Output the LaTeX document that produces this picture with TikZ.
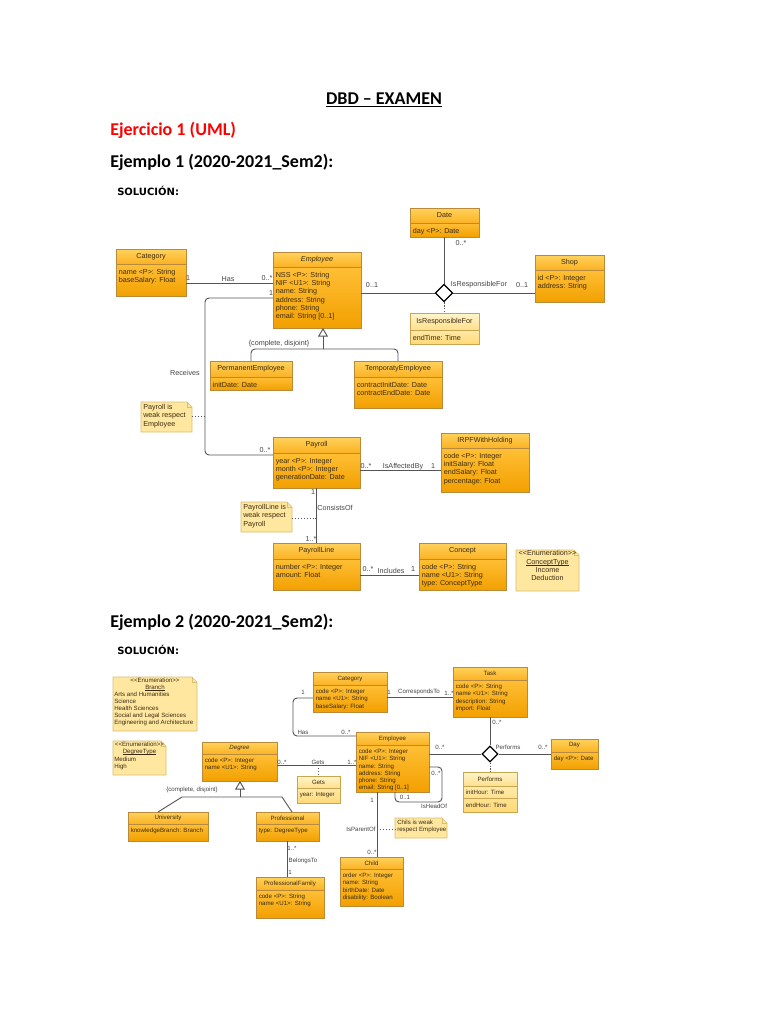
\documentclass[tikz,border=0pt]{standalone}
\usepackage{fontspec}
\setmainfont{Liberation Sans}
\newfontfamily\headfont{Carlito}
\newfontfamily\solfont{DejaVu Sans}
\usetikzlibrary{fit,shapes.geometric,arrows.meta}

\definecolor{hdtop}{HTML}{FFD25C}
\definecolor{hdbot}{HTML}{FBB224}
\definecolor{bdtop}{HTML}{FFBF36}
\definecolor{bdbot}{HTML}{F2A000}
\definecolor{bline}{HTML}{B98A3A}
\definecolor{phtop}{HTML}{FFF4CC}
\definecolor{phbot}{HTML}{FFE08C}
\definecolor{pbtop}{HTML}{FFEAA8}
\definecolor{pbbot}{HTML}{FFD977}
\definecolor{pline}{HTML}{C9A550}
\definecolor{ntfill}{HTML}{FFE7A0}
\definecolor{ntline}{HTML}{D9BE6E}
\definecolor{txt}{HTML}{3B2B12}
\definecolor{lnk}{HTML}{555555}
\definecolor{lblc}{HTML}{444444}

\newcommand\bfs{\fontsize{5.4}{6.2}\selectfont}
\newcommand\attroff{4.8}
\newcommand\enumlbl{<\kern0pt<Enumeration>\kern0pt>}
\newcommand\ulbox[1]{\begingroup\setbox0\hbox{#1}\rlap{\rule[-0.8pt]{\wd0}{0.35pt}}\box0\endgroup}

\tikzset{
  o body/.style={top color=bdtop, bottom color=bdbot},
  o head/.style={top color=hdtop, bottom color=hdbot},
  o edge/.style={draw=bline, line width=0.5pt},
  p body/.style={top color=pbtop, bottom color=pbbot},
  p head/.style={top color=phtop, bottom color=phbot},
  p edge/.style={draw=pline, line width=0.5pt},
  boxtitle/.style={font=\bfs, text=txt, inner sep=0pt},
  boxattr/.style={font=\bfs, text=txt, inner sep=0pt, anchor=north west, align=left},
  notefill/.style={fill=ntfill, draw=ntline, line width=0.5pt},
  notetext/.style={font=\bfs, text=txt, inner sep=0pt, align=left},
  conn/.style={draw=lnk, line width=0.7pt},
  dotc/.style={draw=lnk, line width=0.6pt, dash pattern=on 1pt off 1.2pt},
  lbl/.style={font=\bfs, text=lblc, inner sep=0pt},
  dia/.style={diamond, draw=black, fill=white, line width=0.9pt, inner sep=0pt, minimum width=13pt, minimum height=13pt},
  gentip/.style={-{Triangle[open, length=6.5pt, width=7.5pt]}},
  headline/.style={font=\headfont\bfseries\fontsize{13.5}{16}\selectfont, inner sep=0pt, anchor=base west},
  solline/.style={font=\solfont\bfseries\fontsize{7.5}{9}\selectfont, inner sep=0pt, anchor=base west},
}

\newcommand{\UmlBox}[9]{%
  \node[fit={(#3,#4)(#5,#6)}, inner sep=0pt, outer sep=0pt] (#2) {};
  \shade[#1 body] (#3,#7) rectangle (#5,#6);
  \shade[#1 head] (#3,#4) rectangle (#5,#7);
  \draw[#1 edge] (#3,#4) rectangle (#5,#6);
  \draw[#1 edge] (#3,#7) -- (#5,#7);
  \node[boxtitle] at ({(#3+#5)/2},{(#4+#7)/2}) {#8};
  \node[boxattr] at ({#3+2.5},{#7+\attroff}) {#9};
}
\newcommand{\UmlNote}[5]{%
  \node[fit={(#2,#3)(#4,#5)}, inner sep=0pt, outer sep=0pt] (#1) {};
  \filldraw[notefill] (#2,#3) -- ({#4-5},#3) -- (#4,{#3+5}) -- (#4,#5) -- (#2,#5) -- cycle;
  \draw[draw=ntline, line width=0.5pt] ({#4-5},#3) -- ({#4-5},{#3+5}) -- (#4,{#3+5});
}

\begin{document}
\begin{tikzpicture}[x=0.75pt,y=-0.75pt]
\useasboundingbox (0,0) rectangle (768,1024);
\fill[white] (0,0) rectangle (768,1024);

% ---------- headings ----------
\node[headline, anchor=base] (title) at (384,104) {\underline{DBD – EXAMEN}};
\node[headline, text={rgb,255:red,255;green,0;blue,0}] (ej) at (110,135) {Ejercicio 1 (UML)};
\node[headline] (ex1) at (110,167) {Ejemplo 1 (2020-2021\_Sem2):};
\node[solline] (sol1) at (117,195) {SOLUCIÓN:};
\node[headline] (ex2) at (110,627) {Ejemplo 2 (2020-2021\_Sem2):};
\node[solline] (sol2) at (117,654) {SOLUCIÓN:};

% ================= DIAGRAM 1 =================
\UmlBox{o}{date}{410}{208}{479}{237}{223}{Date}{day <P>: Date}
\UmlBox{o}{cat1}{116}{249}{186}{296}{264}{Category}{name <P>: String\\baseSalary: Float}
\UmlBox{o}{emp1}{273}{252}{361}{328}{267}{\itshape Employee}{NSS <P>: String\\NIF <U1>: String\\name: String\\address: String\\phone: String\\email: String [0..1]}
\UmlBox{o}{shop}{535}{255}{604}{302}{270}{Shop}{id <P>: Integer\\address: String}
\UmlBox{p}{irf}{410}{313}{479}{344}{330}{IsResponsibleFor}{endTime: Time}
\UmlBox{o}{perm}{210}{361}{292}{390}{377}{PermanentEmployee}{initDate: Date}
\UmlBox{o}{temp}{354}{361}{442}{408}{377}{TemporatyEmployee}{contractInitDate: Date\\contractEndDate: Date}
\UmlBox{o}{payroll}{273}{437}{360}{488}{453}{Payroll}{year <P>: Integer\\month <P>: Integer\\generationDate: Date}
\UmlBox{o}{irpf}{441}{433}{529}{492}{448}{IRPFWithHolding}{code <P>: Integer\\initSalary: Float\\endSalary: Float\\percentage: Float}
\UmlBox{o}{pline}{273}{543}{360}{590}{559}{PayrollLine}{number <P>: Integer\\amount: Float}
\UmlBox{o}{concept}{419}{543}{506}{590}{559}{Concept}{code <P>: String\\name <U1>: String\\type: ConceptType}

\UmlNote{n1}{141}{402}{192}{432}
\node[notetext, anchor=north west] at (143,404) {Payroll is\\weak respect\\Employee};
\UmlNote{n2}{241}{502}{292}{532}
\node[notetext, anchor=north west] at (243,504) {PayrollLine is\\weak respect\\Payroll};
\UmlNote{en1}{516}{550}{579}{591}
\node[notetext, align=center, anchor=north] at (547.5,550.5) {\enumlbl\\\ulbox{ConceptType}\\Income\\Deduction};

\node[dia] (d1) at (444,293) {};
\draw[conn] (cat1.east |- 0,283) -- (emp1.west |- 0,283);
\draw[conn] (emp1.east |- d1) -- (d1.west);
\draw[conn] (d1.east) -- (shop.west |- d1);
\draw[conn] (date.south -| d1) -- (d1.north);
\draw[dotc] (d1.south) -- (irf.north -| d1);
\draw[conn, rounded corners=3pt] (emp1.west |- 0,298) -- (205,298) -- (205,455) -- (payroll.west |- 0,455);
\draw[dotc] (n1.east |- 0,416) -- (205,416);
\draw[conn, rounded corners=3pt] (perm.north) -- (251,349) -- (temp.north |- 0,349) -- (temp.north);
\draw[conn, gentip] (323,349) -- (emp1.south -| 323,0);
\draw[conn] (payroll.east |- 0,470) -- (irpf.west |- 0,470);
\draw[conn] (payroll.south -| 316,0) -- (pline.north -| 316,0);
\draw[dotc] (n2.east |- 0,518) -- (316,518);
\draw[conn] (pline.east |- 0,575) -- (concept.west |- 0,575);

\node[lbl] at (188,278) {1};
\node[lbl] at (228,279) {Has};
\node[lbl] at (267,278) {0..*};
\node[lbl] at (271,293) {1};
\node[lbl] at (372,285) {0..1};
\node[lbl] at (479,285) {IsResponsibleFor};
\node[lbl] at (522,285) {0..1};
\node[lbl] at (461,243) {0..*};
\node[lbl] at (185,373) {Receives};
\node[lbl] at (279,344) {\{complete, disjoint\}};
\node[lbl] at (265,450) {0..*};
\node[lbl] at (366,466) {0..*};
\node[lbl] at (403,467) {IsAffectedBy};
\node[lbl] at (433,466) {1};
\node[lbl] at (313,492) {1};
\node[lbl] at (335,508) {ConsistsOf};
\node[lbl] at (311,539) {1..*};
\node[lbl] at (368,569) {0..*};
\node[lbl] at (391,571) {Includes};
\node[lbl] at (413,569) {1};

% ================= DIAGRAM 2 =================
\renewcommand\bfs{\fontsize{4.6}{5.3}\selectfont}
\renewcommand\attroff{4.2}

\UmlBox{o}{cat2}{313}{672}{387}{712}{685}{Category}{code <P>: Integer\\name <U1>: String\\baseSalary: Float}
\UmlBox{o}{task}{453}{667}{527}{717}{680}{Task}{code <P>: String\\name <U1>: String\\description: String\\import: Float}
\UmlBox{o}{emp2}{356}{732}{429}{792}{745}{Employee}{code <P>: Integer\\NIF <U1>: String\\name: String\\address: String\\phone: String\\email: String [0..1]}
\UmlBox{o}{degree}{202}{742}{277}{781}{754}{\itshape Degree}{code <P>: Integer\\name <U1>: String}
\UmlBox{p}{gets}{297}{776}{340}{803}{788}{Gets}{year: Integer}
\UmlBox{o}{day}{551}{739}{598}{769}{752}{Day}{day <P>: Date}
\UmlBox{p}{perf}{463}{772}{517}{812}{786}{Performs}{initHour: Time\\[4.4pt]endHour: Time}
\draw[p edge] (463,798.5) -- (517,798.5);
\UmlBox{o}{univ}{128}{812}{208}{841}{824}{University}{knowledgeBranch: Branch}
\UmlBox{o}{prof}{256}{812}{319}{841}{824}{Professional}{type: DegreeType}
\UmlBox{o}{pfam}{256}{877}{324}{918}{890}{ProfessionalFamily}{code <P>: String\\name <U1>: String}
\UmlBox{o}{child}{340}{857}{403}{906}{869}{Child}{order <P>: Integer\\name: String\\birthDate: Date\\disability: Boolean}

\UmlNote{br}{113}{677}{197}{731}
\node[notetext, align=center, anchor=north] at (155,678) {\enumlbl\\\ulbox{Branch}};
\node[notetext, anchor=north west] at (114,692) {Arts and Humanities\\Science\\Health Sciences\\Social and Legal Sciences\\Engineering and Architecture};
\UmlNote{dt}{113}{741}{166}{775}
\node[notetext, align=center, anchor=north] at (139.5,742) {\enumlbl\\\ulbox{DegreeType}};
\node[notetext, anchor=north west] at (114,756.5) {Medium\\High};
\UmlNote{chn}{395}{818}{447}{838}
\node[notetext, anchor=north west] at (397,820) {Chils is weak\\respect Employee};

\node[dia, minimum width=12pt, minimum height=12pt] (d2) at (490,754) {};
\draw[conn, rounded corners=3pt] (cat2.west |- 0,698) -- (293,698) -- (293,736) -- (emp2.west |- 0,736);
\draw[conn] (cat2.east |- 0,697) -- (task.west |- 0,697);
\draw[conn] (degree.east |- 0,765) -- (emp2.west |- 0,765);
\draw[dotc] (318,765) -- (gets.north -| 318,0);
\draw[conn] (emp2.east |- d2) -- (d2.west);
\draw[conn] (d2.east) -- (day.west |- d2);
\draw[conn] (task.south -| d2) -- (d2.north);
\draw[dotc] (d2.south) -- (perf.north -| d2);
\draw[conn, rounded corners=3pt] (emp2.east |- 0,767) -- (442,767) -- (442,802) -- (395,802) -- (emp2.south -| 395,0);
\draw[conn] (emp2.south -| 377,0) -- (child.north -| 377,0);
\draw[dotc] (377,829) -- (chn.west |- 0,829);
\draw[conn] (univ.north -| 158,0) -- (182,797) -- (282,797) -- (prof.north -| 292,0);
\draw[conn, gentip] (240,797) -- (degree.south -| 240,0);
\draw[conn] (prof.south -| 287,0) -- (pfam.north -| 287,0);

\node[lbl] at (303,692) {1};
\node[lbl] at (303,732) {Has};
\node[lbl] at (346,732) {0..*};
\node[lbl] at (389,692) {1};
\node[lbl] at (419,692) {CorrespondsTo};
\node[lbl] at (449,693) {1..*};
\node[lbl] at (282,762) {0..*};
\node[lbl] at (318,762) {Gets};
\node[lbl] at (352,762) {1..*};
\node[lbl] at (497,722) {0..*};
\node[lbl] at (440,747) {0..*};
\node[lbl] at (508,747) {Performs};
\node[lbl] at (543,747) {0..*};
\node[lbl] at (436,773) {0..*};
\node[lbl] at (405,797) {0..1};
\node[lbl] at (434,806) {IsHeadOf};
\node[lbl] at (192,790) {\{complete, disjoint\}};
\node[lbl] at (372,800) {1};
\node[lbl] at (361,829) {IsParentOf};
\node[lbl] at (372,852) {0..*};
\node[lbl] at (292,848) {1..*};
\node[lbl] at (303,861) {BelongsTo};
\node[lbl] at (290,872) {1};
\end{tikzpicture}
\end{document}
